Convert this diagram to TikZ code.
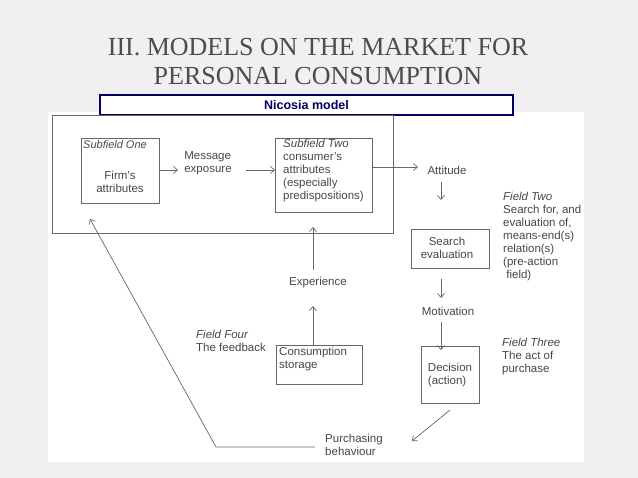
\documentclass[tikz,border=0pt]{standalone}
\usepackage{fontspec}
\setmainfont{Liberation Serif}
\setsansfont{Liberation Sans}
\begin{document}
\begin{tikzpicture}[x=1pt,y=-1pt,
  txt/.style={font=\sffamily\fontsize{11.5}{13}\selectfont,text=black!72,inner sep=0pt,align=left},
  bx/.style={draw=black!60,line width=0.8pt},
  ar/.style={draw=black!60,line width=0.7pt,->,>={Straight Barb[length=4pt,width=7pt]}}]
\usetikzlibrary{arrows.meta}
\fill[black!6] (0,0) rectangle (638,478);
\fill[white] (48,112) rectangle (584,462);
\useasboundingbox (0,0) rectangle (638,478);
\node[font=\rmfamily\fontsize{26}{29}\selectfont,text=black!70,align=center] (title) at (318,62) {III. MODELS ON THE MARKET FOR\\PERSONAL CONSUMPTION};
\node[draw=blue!40!black,line width=1.2pt,fill=white,minimum width=413pt,minimum height=20pt,inner sep=0pt,font=\sffamily\bfseries\fontsize{12.5}{13}\selectfont,text=blue!40!black] (nic) at (306.5,105) {Nicosia model};
\draw[bx] (52,115) rectangle (393,233);
\node[bx,minimum width=78pt,minimum height=65pt,anchor=north west] (s1) at (81,138) {};
\node[txt,font=\sffamily\itshape\fontsize{11}{13}\selectfont,anchor=north west] at (83,140) {Subfield One};
\node[txt,align=center] at (120,182) {Firm's\\attributes};
\node[txt] (msg) at (208,163) {Message\\exposure};
\node[bx,minimum width=97pt,minimum height=74pt,anchor=north west] (s2) at (275,138) {};
\node[txt,anchor=north west] at (283,139) {\textit{Subfield Two}\\consumer's\\attributes\\(especially\\predispositions)};
\node[txt] (att) at (447,170) {Attitude};
\node[bx,minimum width=78pt,minimum height=39pt,anchor=north west] (se) at (411,229) {};
\node[txt,align=center] at (447,248) {Search\\evaluation};
\node[txt,anchor=north west] at (503,192) {\textit{Field Two}\\Search for, and\\evaluation of,\\means-end(s)\\relation(s)\\(pre-action\\\ field)};
\node[txt] (mot) at (448,311) {Motivation};
\node[bx,minimum width=58pt,minimum height=57pt,anchor=north west] (dec) at (421,346) {};
\node[txt,align=left] at (450,375) {Decision\\(action)};
\node[txt,anchor=north west] at (502,338) {\textit{Field Three}\\The act of\\purchase};
\node[txt] (pb) at (354,445) {Purchasing\\behaviour};
\node[bx,minimum width=86pt,minimum height=39pt,anchor=north west] (cs) at (276,345) {};
\node[txt,anchor=north west] at (279,347) {Consumption\\storage};
\node[txt] (exp) at (318,283) {Experience};
\node[txt,anchor=north west] at (196,330) {\textit{Field Four}\\The feedback};
\coordinate (a1) at (159,170); \coordinate (a2) at (178,170);
\draw[ar] (a1) -- (a2);
\coordinate (b1) at (246,170); \coordinate (b2) at (275,170);
\draw[ar] (b1) -- (b2);
\coordinate (c1) at (372,167); \coordinate (c2) at (418,167);
\draw[ar] (c1) -- (c2);
\draw[ar] (441,182) -- (441,200);
\draw[ar] (441,279) -- (441,298);
\draw[ar] (441,322) -- (441,350);
\draw[ar] (450,410) -- (412,441);
\draw[ar] (313,345) -- (313,306);
\draw[ar] (313,270) -- (313,227);
\draw[ar] (315,447) -- (216,447) -- (90,219);
\end{tikzpicture}
\end{document}
